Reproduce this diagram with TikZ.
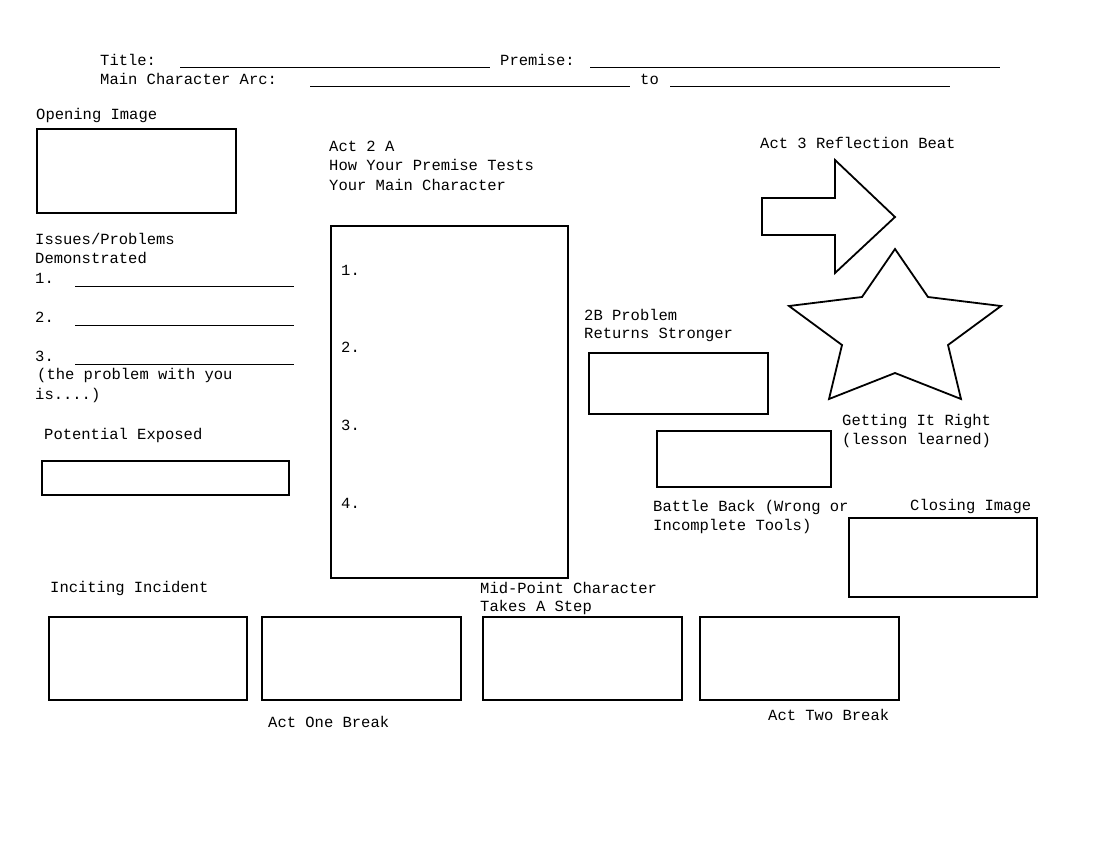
\documentclass[tikz,border=0pt]{standalone}
\usepackage{fontspec}
\setmainfont{Liberation Mono}
\begin{document}
\begin{tikzpicture}[x=1pt,y=-1pt,
  t/.style={anchor=west,inner sep=0pt,font=\fontsize{15.5}{16}\selectfont},
  bx/.style={draw,line width=1.8pt},
  ul/.style={line width=0.9pt}]
\useasboundingbox (0,0) rectangle (1099,849);
\foreach \n/\x/\y/\s in {a/100/60/{Title:}, b/500/60/{Premise:}, c/100/79/{Main Character Arc:}, d/640/79/{to},
 e/36/115/{Opening Image}, f/329/146/{Act 2 A}, g/329/165/{How Your Premise Tests}, h/329/185/{Your Main Character},
 i/760/143/{Act 3 Reflection Beat}, j/35/239/{Issues/Problems}, k/35/258/{Demonstrated}, l/35/278/{1.}, m/35/317/{2.}, n/35/356/{3.},
 o/37/375/{(the problem with you}, p/35/395/{is....)}, q/341/270/{1.}, r/341/347/{2.}, s/341/425/{3.}, u/341/503/{4.},
 v/584/315/{2B Problem}, w/584/335/{Returns Stronger}, y/842/421/{Getting It Right}, z/842/440/{(lesson learned)},
 aa/44/435/{Potential Exposed}, ab/653/507/{Battle Back (Wrong or}, ac/653/526/{Incomplete Tools)}, ad/910/506/{Closing Image},
 ae/50/588/{Inciting Incident}, af/480/588/{Mid-Point Character}, ag/480/607/{Takes A Step}, ah/268/722/{Act One Break}, ai/768/715/{Act Two Break}}
  \node[t] (txt\n) at (\x,\y) {\s};
\draw[ul] (180,67) -- (490,67) (590,67) -- (1000,67) (310,86) -- (630,86) (670,86) -- (950,86);
\draw[ul] (75,286) -- (294,286) (75,325) -- (294,325) (75,364) -- (294,364);
\draw[bx] (37,129) rectangle (236,213);
\draw[bx] (331,226) rectangle (568,578);
\draw[bx] (589,353) rectangle (768,414);
\draw[bx] (657,431) rectangle (831,487);
\draw[bx] (849,518) rectangle (1037,597);
\draw[bx] (42,461) rectangle (289,495);
\draw[bx] (49,617) rectangle (247,700);
\draw[bx] (262,617) rectangle (461,700);
\draw[bx] (483,617) rectangle (682,700);
\draw[bx] (700,617) rectangle (899,700);
\draw[bx,line join=miter] (762,198) -- (835,198) -- (835,160) -- (895,217) -- (835,273) -- (835,235) -- (762,235) -- cycle;
\draw[bx,line join=miter] (895,249) -- (928,297) -- (1001,306) -- (948,345) -- (961,399) -- (895,373) -- (829,399) -- (842,345) -- (789,306) -- (862,297) -- cycle;
\end{tikzpicture}
\end{document}
